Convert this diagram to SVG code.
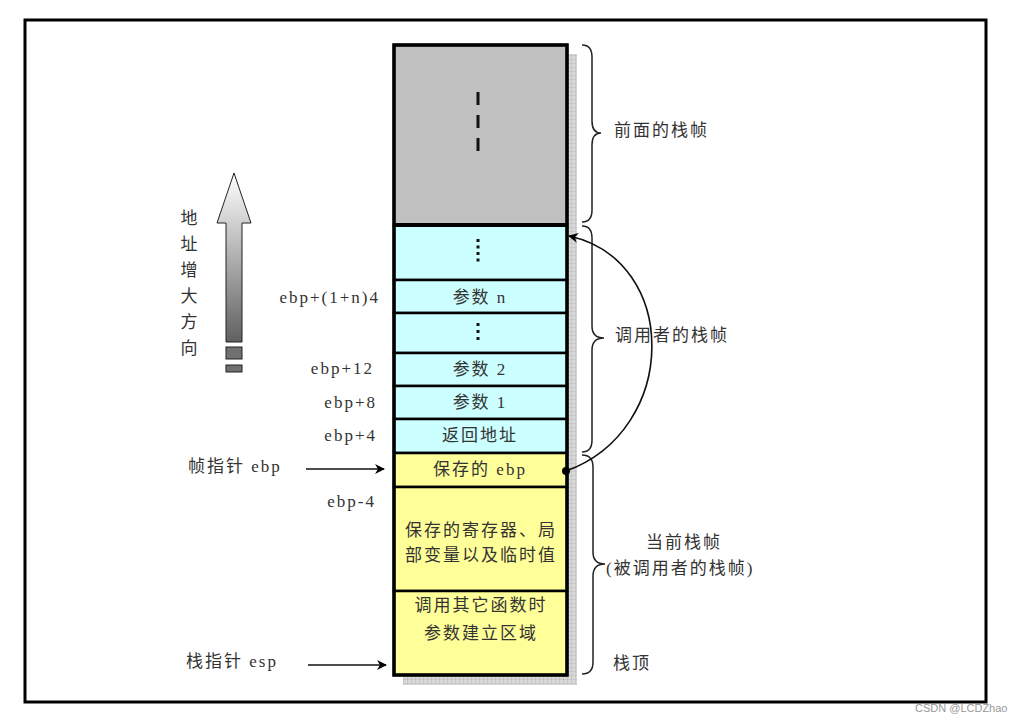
<svg xmlns="http://www.w3.org/2000/svg" width="1029" height="722" viewBox="0 0 1029 722">
<style>
.t{font-family:"Liberation Serif","Noto Sans CJK SC",serif;font-size:17px;fill:#333;letter-spacing:2px}
.c{text-anchor:middle}
.e{text-anchor:end}
.cell{stroke:#000;stroke-width:2.5}
.br{fill:none;stroke:#222;stroke-width:1.5}
.ln{fill:none;stroke:#111;stroke-width:1.6}
</style>
<defs>
<pattern id="grid" width="4" height="4" patternUnits="userSpaceOnUse">
<rect width="4" height="4" fill="#d8d8d8"/>
<path d="M4 0V4M0 4H4" stroke="#a8a8a8" stroke-width="0.6" fill="none"/>
</pattern>
<linearGradient id="ag" x1="0" y1="0" x2="0" y2="1">
<stop offset="0" stop-color="#ffffff"/>
<stop offset="1" stop-color="#606060"/>
</linearGradient>
<marker id="ah" viewBox="0 0 10 10" refX="9" refY="5" markerWidth="10" markerHeight="10" markerUnits="userSpaceOnUse" orient="auto">
<path d="M0 0L10 5L0 10L3 5Z" fill="#000"/>
</marker>
</defs>
<rect x="0" y="0" width="1029" height="722" fill="#fff"/>
<rect x="25" y="20" width="961" height="682" fill="none" stroke="#000" stroke-width="3"/>

<g id="shadow">
<rect x="567" y="54" width="10" height="631" fill="url(#grid)"/>
<rect x="403" y="675" width="174" height="10" fill="url(#grid)"/>
</g>

<g id="prev-frame">
<rect class="cell" x="394" y="45" width="173" height="180" fill="#c0c0c0" stroke-width="3.5"/>
<path d="M478 92V105M478 115V128M478 138V151" stroke="#111" stroke-width="3"/>
</g>
<g id="caller-dots">
<rect class="cell" x="394" y="225" width="173" height="55" fill="#ccffff"/>
<line x1="394" y1="225" x2="567" y2="225" stroke="#000" stroke-width="4"/>
<path d="M478 239V264" stroke="#111" stroke-width="3" stroke-dasharray="3 3.5"/>
</g>
<g id="param-n">
<rect class="cell" x="394" y="280" width="173" height="33" fill="#ccffff"/>
<text class="t c" x="480" y="303">参数 n</text>
</g>
<g id="caller-dots2">
<rect class="cell" x="394" y="313" width="173" height="40" fill="#ccffff"/>
<path d="M478 323V341" stroke="#111" stroke-width="3" stroke-dasharray="3 4"/>
</g>
<g id="param-2">
<rect class="cell" x="394" y="353" width="173" height="33" fill="#ccffff"/>
<text class="t c" x="480" y="375">参数 2</text>
</g>
<g id="param-1">
<rect class="cell" x="394" y="386" width="173" height="33" fill="#ccffff"/>
<text class="t c" x="480" y="408">参数 1</text>
</g>
<g id="ret-addr">
<rect class="cell" x="394" y="419" width="173" height="34" fill="#ccffff"/>
<text class="t c" x="480" y="441">返回地址</text>
</g>
<g id="saved-ebp">
<rect class="cell" x="394" y="453" width="173" height="34" fill="#ffff99"/>
<text class="t c" x="480" y="475">保存的 ebp</text>
</g>
<g id="locals">
<rect class="cell" x="394" y="487" width="173" height="104" fill="#ffff99"/>
<text class="t c" x="481" y="536">保存的寄存器、局</text>
<text class="t c" x="481" y="561">部变量以及临时值</text>
</g>
<g id="args-area">
<rect class="cell" x="394" y="591" width="173" height="84" fill="#ffff99"/>
<text class="t c" x="481" y="611">调用其它函数时</text>
<text class="t c" x="481" y="639">参数建立区域</text>
</g>
<rect x="394" y="45" width="173" height="630" fill="none" stroke="#000" stroke-width="3.5"/>

<g id="braces">
<path class="br" d="M582 45Q592 45 592 57V121Q592 133 601 133Q592 133 592 145V210Q592 222 582 222"/>
<path class="br" d="M582 226Q592 226 592 238V326Q592 338 604 338Q592 338 592 350V440Q592 452 582 452"/>
<path class="br" d="M582 455Q593 455 593 467V552Q593 564 605 564Q593 564 593 576V662Q593 674 582 674"/>
</g>
<g id="brace-labels">
<text class="t" x="614" y="136">前面的栈帧</text>
<text class="t" x="615" y="341">调用者的栈帧</text>
<text class="t" x="646" y="548">当前栈帧</text>
<text class="t" x="606" y="574">(被调用者的栈帧)</text>
<text class="t" x="613" y="669">栈顶</text>
</g>

<g id="offset-labels">
<text class="t e" x="380" y="303" letter-spacing="1">ebp+(1+n)4</text>
<text class="t e" x="374" y="374" letter-spacing="1">ebp+12</text>
<text class="t e" x="377" y="408" letter-spacing="1">ebp+8</text>
<text class="t e" x="377" y="441" letter-spacing="1">ebp+4</text>
<text class="t e" x="376" y="507" letter-spacing="1">ebp-4</text>
</g>

<g id="pointer-labels">
<text class="t" x="188" y="472">帧指针 ebp</text>
<text class="t" x="186" y="667">栈指针 esp</text>
</g>

<g id="addr-arrow">
<path d="M234 173L251 223H242V342H226V223H217Z" fill="url(#ag)" stroke="#222" stroke-width="1"/>
<rect x="226" y="347" width="16" height="12" fill="#707070" stroke="#222" stroke-width="1"/>
<rect x="226" y="365" width="16" height="7" fill="#707070" stroke="#222" stroke-width="1"/>
<text class="t c" x="190" y="224">地</text>
<text class="t c" x="190" y="250">址</text>
<text class="t c" x="190" y="276">增</text>
<text class="t c" x="190" y="302">大</text>
<text class="t c" x="190" y="328">方</text>
<text class="t c" x="190" y="354">向</text>
</g>

<g id="connectors">
<line class="ln" x1="306" y1="469" x2="384" y2="469" marker-end="url(#ah)"/>
<line class="ln" x1="308" y1="665" x2="386" y2="665" marker-end="url(#ah)"/>
<path class="ln" d="M566 471C680 430 680 260 569 236" marker-end="url(#ah)"/>
<circle cx="566" cy="471" r="4" fill="#000"/>
</g>

<text x="915" y="712" font-family="Liberation Sans,Arial,sans-serif" font-size="11" fill="#999">CSDN @LCDZhao</text>
</svg>
